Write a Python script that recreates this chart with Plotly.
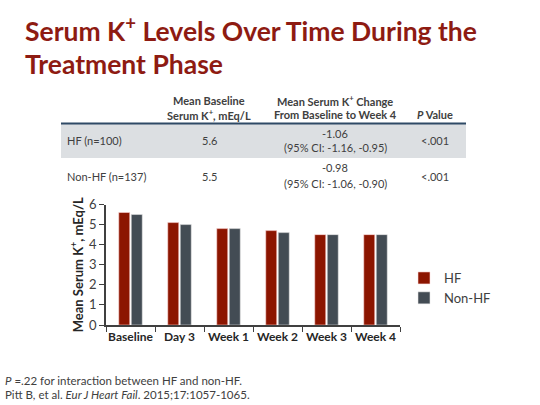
import plotly.graph_objects as go

# chart data
categories = ["Baseline", "Day 3", "Week 1", "Week 2", "Week 3", "Week 4"]
hf_values = [5.6, 5.1, 4.8, 4.7, 4.5, 4.5]
non_hf_values = [5.5, 5.0, 4.8, 4.6, 4.5, 4.5]

# table data
header_baseline = ["Mean Baseline", "Serum K<sup>+</sup>, mEq/L"]
header_change = ["Mean Serum K<sup>+</sup> Change", "From Baseline to Week 4"]
header_p = "<i>P</i> Value"
row_labels = ["HF (n=100)", "Non-HF (n=137)"]
baseline_k = ["5.6", "5.5"]
k_change = ["-1.06", "-0.98"]
k_change_ci = ["(95% CI: -1.16, -0.95)", "(95% CI: -1.06, -0.90)"]
p_values = ["<.001", "<.001"]

title_lines = ["Serum K<sup>+</sup> Levels Over Time During the", "Treatment Phase"]
footnotes = [
    "<i>P</i> =.22 for interaction between HF and non-HF.",
    "Pitt B, et al. <i>Eur J Heart Fail</i>. 2015;17:1057-1065.",
]

W, H = 540, 405
FONT = "Lato"
TEXT = "#404040"
RED = "#8C1500"
GREY = "#434C54"


def px(x):
    return x / W


def py(y):
    return 1 - y / H


def label(x, y, text, size=11, bold=False, anchor="center", color=TEXT):
    if bold:
        text = "<b>" + text + "</b>"
    return dict(
        x=px(x), y=py(y), xref="paper", yref="paper", text=text,
        showarrow=False, xanchor=anchor, yanchor="middle",
        font=dict(family=FONT, size=size, color=color),
    )


fig = go.Figure()
fig.add_trace(go.Bar(
    x=categories, y=hf_values, name="HF",
    marker=dict(color=RED, line=dict(color="rgba(255,220,220,0.7)", width=0.8)),
))
fig.add_trace(go.Bar(
    x=categories, y=non_hf_values, name="Non-HF",
    marker=dict(color=GREY, line=dict(color="rgba(230,230,230,0.7)", width=0.8)),
))

annotations = []
annotations.append(label(23, 29, title_lines[0], size=26.5, bold=True, anchor="left", color="#8E1B12"))
annotations.append(label(23, 64, title_lines[1], size=26.5, bold=True, anchor="left", color="#8E1B12"))

# table header
annotations.append(label(209, 100, header_baseline[0], bold=True))
annotations.append(label(209, 115, header_baseline[1], bold=True))
annotations.append(label(335, 100, header_change[0], bold=True))
annotations.append(label(335, 115, header_change[1], bold=True))
annotations.append(label(435, 115, header_p, bold=True))

# table rows
row_mid = [141, 176]
for i, mid in enumerate(row_mid):
    annotations.append(label(65, mid, row_labels[i], anchor="left"))
    annotations.append(label(209, mid, baseline_k[i]))
    annotations.append(label(335, mid - 8, k_change[i]))
    annotations.append(label(335, mid + 7, k_change_ci[i]))
    annotations.append(label(435, mid, p_values[i]))

annotations.append(label(3, 380, footnotes[0], size=11.5, anchor="left"))
annotations.append(label(3, 394, footnotes[1], size=11.5, anchor="left"))

shapes = [
    dict(type="rect", xref="paper", yref="paper",
         x0=px(61), x1=px(466), y0=py(124), y1=py(158),
         fillcolor="#DCDFE2", line=dict(width=0), layer="below"),
    dict(type="line", xref="paper", yref="paper",
         x0=px(61), x1=px(466), y0=py(123.5), y1=py(123.5),
         line=dict(color="#2F4A66", width=2)),
]

fig.update_layout(
    width=W, height=H,
    margin=dict(l=0, r=0, t=0, b=0, pad=0),
    paper_bgcolor="white", plot_bgcolor="white",
    font=dict(family=FONT, color=TEXT),
    barmode="group", bargap=0.49, bargroupgap=0.12,
    annotations=annotations, shapes=shapes,
    showlegend=True,
    legend=dict(
        x=px(404), y=py(263), xanchor="left", yanchor="top",
        font=dict(family=FONT, size=13, color=TEXT),
        bgcolor="rgba(0,0,0,0)",
    ),
    xaxis=dict(
        domain=[px(106), px(400)], automargin=False,
        showline=True, linecolor="#404040", linewidth=1.5,
        ticks="outside", tickson="boundaries", ticklen=5, tickcolor="#404040",
        tickangle=0,
        tickfont=dict(family=FONT, size=12, color="#262626", weight="bold"),
        showgrid=False,
    ),
    yaxis=dict(
        domain=[py(325), py(204.5)], automargin=False,
        range=[0, 6], dtick=1,
        showline=True, linecolor="#404040", linewidth=1.5,
        ticks="outside", ticklen=5, tickcolor="#404040",
        tickfont=dict(family=FONT, size=13, color=TEXT),
        showgrid=False, zeroline=False,
        title=dict(text="<b>Mean Serum K<sup>+</sup>, mEq/L</b>",
                   font=dict(family=FONT, size=13, color="#262626"), standoff=3),
    ),
)

# drop the browser's default page margin so the figure sits at the top-left corner
fig.write_html(
    "out.html",
    config={"displayModeBar": False},
    post_script="document.body.style.margin='0';",
)
